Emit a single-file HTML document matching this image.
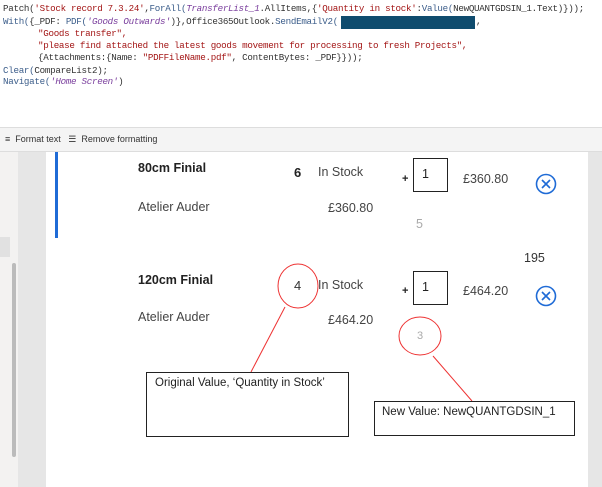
<!DOCTYPE html>
<html><head><meta charset="utf-8"><style>
*{margin:0;padding:0;box-sizing:border-box}
body{width:602px;height:487px;position:relative;overflow:hidden;background:#fff;font-family:"Liberation Sans",sans-serif}
.a{position:absolute;white-space:nowrap;line-height:1}
.code{font-family:"Liberation Mono",monospace;font-size:9.2px;color:#333;letter-spacing:-0.28px}
.s{color:#a31515}.f{color:#3b5d8a}.i{color:#7a3e9d;font-style:italic}
.t{font-size:12.5px;color:#444}
.b{font-weight:bold;color:#222;font-size:12.5px}
.box{position:absolute;border:1.6px solid #222}
</style></head><body>
<div class="a code" style="left:3px;top:4px">Patch(<span class="s">'Stock record 7.3.24'</span>,<span class="f">ForAll(</span><span class="i">TransferList_1</span>.AllItems,{<span class="s">'Quantity in stock'</span>:<span class="f">Value(</span>NewQUANTGDSIN_1.Text)}));</div>
<div class="a code" style="left:3px;top:17px"><span class="f">With(</span>{_PDF: <span class="f">PDF(</span><span class="i">'Goods Outwards'</span>)},Office365Outlook.<span class="f">SendEmailV2(</span></div>
<div class="a" style="left:341px;top:16px;width:134px;height:13px;background:#0f4c6e"></div>
<div class="a code" style="left:476px;top:17px">,</div>
<div class="a code s" style="left:38px;top:29px">"Goods transfer",</div>
<div class="a code s" style="left:38px;top:41px">"please find attached the latest goods movement for processing to fresh Projects",</div>
<div class="a code" style="left:38px;top:53px">{Attachments:{Name: <span class="s">"PDFFileName.pdf"</span>, ContentBytes: _PDF}}));</div>
<div class="a code" style="left:3px;top:66px"><span class="f">Clear(</span>CompareList2);</div>
<div class="a code" style="left:3px;top:77px"><span class="f">Navigate(</span><span class="i">'Home Screen'</span>)</div>
<div class="a" style="left:0;top:127px;width:602px;height:25px;background:#f4f4f4;border-top:1px solid #ddd;border-bottom:1px solid #ddd"></div>
<div class="a" style="left:5px;top:135px;font-size:9px;color:#333">≡&nbsp; Format text &nbsp;&nbsp;☰&nbsp; Remove formatting</div>
<div class="a" style="left:0;top:152px;width:18px;height:335px;background:#f3f2f1"></div>
<div class="a" style="left:0;top:237px;width:10px;height:20px;background:#e1e1e1"></div>
<div class="a" style="left:12px;top:263px;width:4px;height:194px;background:#bbb;border-radius:2px"></div>
<div class="a" style="left:18px;top:152px;width:28px;height:335px;background:#e6e6e6"></div>
<div class="a" style="left:588px;top:152px;width:14px;height:335px;background:#e6e6e6"></div>
<div class="a" style="left:55px;top:152px;width:3px;height:86px;background:#1f6bd6"></div>

<div class="a b" style="left:138px;top:162px">80cm Finial</div>
<div class="a b" style="left:294px;top:166px;font-size:13px">6</div>
<div class="a t" style="left:318px;top:166px">In Stock</div>
<div class="a b" style="left:402px;top:174px;font-size:11px">+</div>
<div class="box" style="left:413px;top:158px;width:35px;height:34px"></div>
<div class="a t" style="left:422px;top:168px;color:#222">1</div>
<div class="a t" style="left:463px;top:173px">£360.80</div>
<svg class="a" style="left:535px;top:173px" width="22" height="22"><circle cx="11" cy="11" r="9.5" fill="none" stroke="#1f6bd6" stroke-width="1.6"/><path d="M7 7L15 15M15 7L7 15" stroke="#1f6bd6" stroke-width="1.6"/></svg>
<div class="a t" style="left:138px;top:201px">Atelier Auder</div>
<div class="a t" style="left:328px;top:202px">£360.80</div>
<div class="a t" style="left:416px;top:218px;color:#aaa">5</div>
<div class="a t" style="left:524px;top:252px;color:#333">195</div>

<div class="a b" style="left:138px;top:274px">120cm Finial</div>
<div class="a" style="left:294px;top:279px;font-size:13px;color:#333">4</div>
<div class="a t" style="left:318px;top:279px">In Stock</div>
<div class="a b" style="left:402px;top:286px;font-size:11px">+</div>
<div class="box" style="left:413px;top:271px;width:35px;height:34px"></div>
<div class="a t" style="left:422px;top:281px;color:#222">1</div>
<div class="a t" style="left:463px;top:285px">£464.20</div>
<svg class="a" style="left:535px;top:285px" width="22" height="22"><circle cx="11" cy="11" r="9.5" fill="none" stroke="#1f6bd6" stroke-width="1.6"/><path d="M7 7L15 15M15 7L7 15" stroke="#1f6bd6" stroke-width="1.6"/></svg>
<div class="a t" style="left:138px;top:311px">Atelier Auder</div>
<div class="a t" style="left:328px;top:314px">£464.20</div>
<div class="a" style="left:417px;top:331px;color:#aaa;font-size:11px">3</div>

<svg class="a" style="left:0;top:0" width="602" height="487">
<ellipse cx="298" cy="286" rx="20" ry="22" fill="none" stroke="#e33" stroke-width="1"/>
<ellipse cx="420" cy="336" rx="21" ry="19" fill="none" stroke="#e33" stroke-width="1"/>
<line x1="285" y1="307" x2="251" y2="372" stroke="#e33"/>
<line x1="433" y1="356" x2="472" y2="401" stroke="#e33"/>
</svg>
<div class="box" style="left:146px;top:372px;width:203px;height:65px;border-width:1.2px"></div>
<div class="a" style="left:155px;top:378px;font-size:11.5px;color:#222">Original Value, ‘Quantity in Stock’</div>
<div class="box" style="left:374px;top:401px;width:201px;height:35px;border-width:1.2px"></div>
<div class="a" style="left:382px;top:407px;font-size:11.5px;color:#222">New Value: NewQUANTGDSIN_1</div>
</body></html>
